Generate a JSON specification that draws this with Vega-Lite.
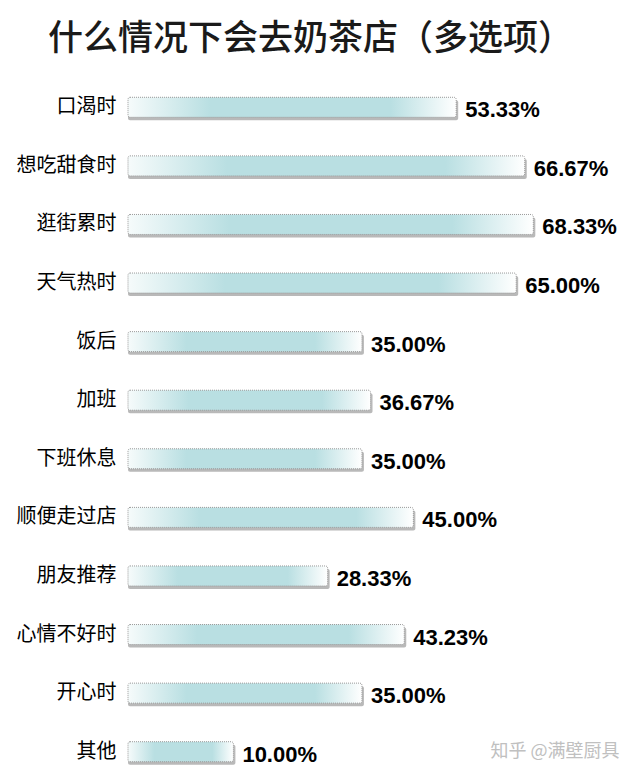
{
  "$schema": "https://vega.github.io/schema/vega-lite/v6.json",
  "autosize": {"type": "none"},
  "width": 509,
  "height": 703,
  "padding": {"left": 128, "top": 78, "right": 0, "bottom": 0},
  "background": "white",
  "title": {
    "text": "什么情况下会去奶茶店（多选项）",
    "font": "Noto Sans CJK SC",
    "fontSize": 35,
    "fontWeight": 500,
    "color": "#1a1a1a",
    "anchor": "start",
    "frame": "group",
    "dx": -80,
    "offset": 21
  },
  "config": {"view": {"stroke": null}},
  "datasets": {
    "rows": [
      {"item": "口渴时", "pct": 53.33, "label": "53.33%"},
      {"item": "想吃甜食时", "pct": 66.67, "label": "66.67%"},
      {"item": "逛街累时", "pct": 68.33, "label": "68.33%"},
      {"item": "天气热时", "pct": 65.00, "label": "65.00%"},
      {"item": "饭后", "pct": 35.00, "label": "35.00%"},
      {"item": "加班", "pct": 36.67, "label": "36.67%"},
      {"item": "下班休息", "pct": 35.00, "label": "35.00%"},
      {"item": "顺便走过店", "pct": 45.00, "label": "45.00%"},
      {"item": "朋友推荐", "pct": 28.33, "label": "28.33%"},
      {"item": "心情不好时", "pct": 43.23, "label": "43.23%"},
      {"item": "开心时", "pct": 35.00, "label": "35.00%"},
      {"item": "其他", "pct": 10.00, "label": "10.00%"}
    ],
    "mark": [
      {"item": "其他", "pct": 60, "note": "知乎 @满壁厨具"}
    ]
  },
  "layer": [
    {
      "data": {"name": "rows"},
      "mark": {"type": "bar", "size": 20, "color": "#8a8a8a", "opacity": 0.6, "xOffset": 2, "yOffset": 3, "cornerRadius": 2},
      "encoding": {
        "y": {"field": "item", "type": "nominal", "sort": null},
        "x": {"field": "pct", "type": "quantitative"},
        "x2": {"datum": -10.5}
      }
    },
    {
      "data": {"name": "rows"},
      "mark": {
        "type": "bar",
        "size": 20,
        "cornerRadius": 2,
        "stroke": "#9a9a9a",
        "strokeWidth": 1,
        "strokeDash": [1, 1],
        "color": {
          "gradient": "linear",
          "x1": 0, "x2": 1, "y1": 0, "y2": 0,
          "stops": [
            {"offset": 0, "color": "#f6fbfb"},
            {"offset": 0.25, "color": "#b9dfe2"},
            {"offset": 0.8, "color": "#b9dfe2"},
            {"offset": 1, "color": "#ffffff"}
          ]
        }
      },
      "encoding": {
        "y": {"field": "item", "type": "nominal", "sort": null},
        "x": {"field": "pct", "type": "quantitative"},
        "x2": {"datum": -10.5}
      }
    },
    {
      "data": {"name": "rows"},
      "mark": {
        "type": "text",
        "align": "left",
        "baseline": "middle",
        "dx": 9,
        "dy": 3,
        "font": "Liberation Sans",
        "fontWeight": "bold",
        "fontSize": 22,
        "color": "#000"
      },
      "encoding": {
        "y": {"field": "item", "type": "nominal", "sort": null},
        "x": {"field": "pct", "type": "quantitative"},
        "text": {"field": "label"}
      }
    },
    {
      "data": {"name": "mark"},
      "mark": {"type": "text", "align": "left", "baseline": "middle", "font": "Noto Sans CJK SC", "fontSize": 18, "color": "#c0c0c0"},
      "encoding": {
        "y": {"field": "item", "type": "nominal", "sort": null},
        "x": {"field": "pct", "type": "quantitative"},
        "text": {"field": "note"}
      }
    }
  ],
  "resolve": {"scale": {"x": "shared", "y": "shared"}},
  "encoding": {
    "y": {
      "field": "item",
      "type": "nominal",
      "sort": null,
      "scale": {"paddingInner": 0, "paddingOuter": 0},
      "axis": {
        "title": null,
        "domain": false,
        "ticks": false,
        "labelFont": "Noto Sans CJK SC",
        "labelFontSize": 20,
        "labelColor": "#000",
        "labelPadding": 12
      }
    },
    "x": {
      "field": "pct",
      "type": "quantitative",
      "scale": {"domain": [-10.5, 88.5], "zero": false, "nice": false},
      "axis": null
    }
  }
}
